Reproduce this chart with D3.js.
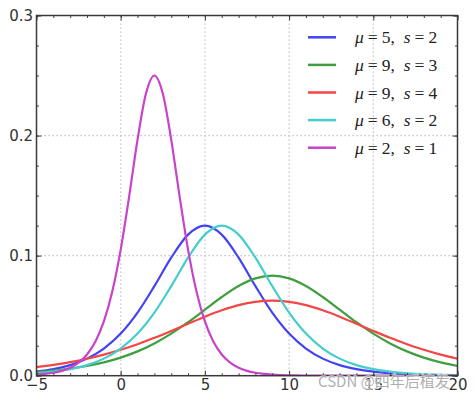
<!DOCTYPE html>
<html>
<head>
<meta charset="utf-8">
<script src="https://cdn.jsdelivr.net/npm/d3@7/dist/d3.min.js"></script>
<style>
html,body{margin:0;padding:0;background:#fff;}
svg{display:block;}
</style>
</head>
<body>
<svg id="chart" width="474" height="395"></svg>
<script>
// ---- data ----
const xWide = [-5,-4,-3,-2,-1,0,1,2,3,4,5,6,7,8,9,10,11,12,13,14,15,16,17,18,19,20];
const xNarrow = [-5,-4.5,-4,-3.5,-3,-2.5,-2,-1.5,-1,-0.5,0,0.5,1,1.5,2,2.5,3,3.5,4,4.5,5,5.5,6,6.5,7,7.5,8,8.5,9,9.5,10,10.5,11,11.5,12,12.5,13,13.5,14,14.5,15,15.5,16,16.5,17,17.5,18,18.5,19,19.5,20];

const mu5s2 = [0.00332,0.00544,0.00883,0.01423,0.02259,0.03505,0.0525,0.07458,0.0983,0.1175,0.125,0.1175,0.0983,0.07458,0.0525,0.03505,0.02259,0.01423,0.00883,0.00544,0.00332,0.00203,0.00123,0.00075,0.00046,0.00028];
const mu9s3 = [0.00308,0.00426,0.00589,0.0081,0.01109,0.01506,0.02025,0.02686,0.035,0.04454,0.05503,0.06554,0.07472,0.08106,0.08333,0.08106,0.07472,0.06554,0.05503,0.04454,0.035,0.02686,0.02025,0.01506,0.01109,0.0081];
const mu9s4 = [0.00711,0.00898,0.0113,0.01412,0.01753,0.02157,0.02625,0.03153,0.03729,0.04328,0.04915,0.05447,0.05875,0.06153,0.0625,0.06153,0.05875,0.05447,0.04915,0.04328,0.03729,0.03153,0.02625,0.02157,0.01753,0.01412];
const mu6s2 = [0.00203,0.00332,0.00544,0.00883,0.01423,0.02259,0.03505,0.0525,0.07458,0.0983,0.1175,0.125,0.1175,0.0983,0.07458,0.0525,0.03505,0.02259,0.01423,0.00883,0.00544,0.00332,0.00203,0.00123,0.00075,0.00046];
const mu2s1 = [0.00091,0.0015,0.00247,0.00405,0.00665,0.01087,0.01766,0.02845,0.04518,0.0701,0.105,0.1491,0.1966,0.235,0.25,0.235,0.1966,0.1491,0.105,0.0701,0.04518,0.02845,0.01766,0.01087,0.00665,0.00405,0.00247,0.0015,0.00091,0.00055,0.00034,0.0002,0.00012,0.00007,0.00005,0.00003,0.00002,0.00001,0.00001,0,0,0,0,0,0,0,0,0,0,0,0];

const seriesNames = ["mu5s2","mu9s3","mu9s4","mu6s2","mu2s1"];
const legendMu = ["5","9","9","6","2"];
const legendS = ["2","3","4","2","1"];
const seriesColors = ["#4343f5","#3f9f3f","#f54545","#45cdcd","#c843cc"];

const xTicks = [-5,0,5,10,15,20];
const xMinor = d3.range(-5,21,1);
const yTicks = [0.0,0.1,0.2,0.3];
const yMinor = d3.range(0,0.3001,0.025);
const xGrid = [0,5,10,15];
const yGrid = [0.1,0.2];

// ---- chart ----
const svg = d3.select("#chart");
const L = 36.5, R = 457.5, T = 15.5, B = 375.7;
const x = d3.scaleLinear().domain([-5,20]).range([L,R]);
const y = d3.scaleLinear().domain([0,0.3]).range([B,T]);

const series = [
  {xs:xWide, ys:mu5s2},
  {xs:xWide, ys:mu9s3},
  {xs:xWide, ys:mu9s4},
  {xs:xWide, ys:mu6s2},
  {xs:xNarrow, ys:mu2s1}
];

// grid
const grid = svg.append("g").attr("stroke","#b8b8b8").attr("stroke-width",1.2).attr("stroke-dasharray","1.3,2.7");
grid.selectAll("line.gx").data(xGrid).enter().append("line")
  .attr("x1",d=>x(d)).attr("x2",d=>x(d)).attr("y1",T).attr("y2",B);
grid.selectAll("line.gy").data(yGrid).enter().append("line")
  .attr("y1",d=>y(d)).attr("y2",d=>y(d)).attr("x1",L).attr("x2",R);

// clip
svg.append("clipPath").attr("id","clip").append("rect")
  .attr("x",L).attr("y",T).attr("width",R-L).attr("height",B-T);

const line = d3.line().curve(d3.curveMonotoneX);
const lines = svg.append("g").attr("clip-path","url(#clip)");
series.forEach((s,i)=>{
  const pts = s.xs.map((xv,j)=>[x(xv), y(s.ys[j])]);
  lines.append("path").attr("d", line(pts))
    .attr("fill","none").attr("stroke",seriesColors[i]).attr("stroke-width",2.2)
    .attr("stroke-linejoin","round");
});

// axes
const tickColor = "#444";
function styleAxis(g){
  g.select(".domain").remove();
  g.selectAll(".tick line").attr("stroke",tickColor).attr("stroke-width",1);
  g.selectAll(".tick text").attr("fill","#333").style("font-family","'DejaVu Sans', sans-serif").style("font-size","15px");
}
const fmtX = d => d < 0 ? "\u2212" + Math.abs(d) : String(d);
svg.append("g").attr("transform",`translate(0,${B})`)
  .call(d3.axisBottom(x).tickValues(xMinor).tickSize(-2.5).tickFormat(""))
  .call(styleAxis);
svg.append("g").attr("transform",`translate(0,${B})`)
  .call(d3.axisBottom(x).tickValues(xTicks).tickSize(-5).tickPadding(4).tickFormat(fmtX))
  .call(styleAxis);
svg.append("g").attr("transform",`translate(0,${T})`)
  .call(d3.axisTop(x).tickValues(xMinor).tickSize(-2.5).tickFormat(""))
  .call(styleAxis);
svg.append("g").attr("transform",`translate(0,${T})`)
  .call(d3.axisTop(x).tickValues(xTicks).tickSize(-5).tickFormat(""))
  .call(styleAxis);
svg.append("g").attr("transform",`translate(${L},0)`)
  .call(d3.axisLeft(y).tickValues(yMinor).tickSize(-2.5).tickFormat(""))
  .call(styleAxis);
svg.append("g").attr("transform",`translate(${L},0)`)
  .call(d3.axisLeft(y).tickValues(yTicks).tickSize(-5).tickPadding(3.5).tickFormat(d3.format(".1f")))
  .call(styleAxis);
svg.append("g").attr("transform",`translate(${R},0)`)
  .call(d3.axisRight(y).tickValues(yMinor).tickSize(-2.5).tickFormat(""))
  .call(styleAxis);
svg.append("g").attr("transform",`translate(${R},0)`)
  .call(d3.axisRight(y).tickValues(yTicks).tickSize(-5).tickFormat(""))
  .call(styleAxis);

// frame
svg.append("rect").attr("x",L).attr("y",T).attr("width",R-L).attr("height",B-T)
  .attr("fill","none").attr("stroke","#3a3a3a").attr("stroke-width",1.5);

// legend
const leg = svg.append("g");
seriesNames.forEach((n,i)=>{
  const ly = 37.3 + i*27.6;
  leg.append("line").attr("x1",308).attr("x2",336).attr("y1",ly).attr("y2",ly)
    .attr("stroke",seriesColors[i]).attr("stroke-width",2.5);
  const t = leg.append("text").attr("x",355).attr("y",ly+6)
    .style("font-family","'Liberation Serif','Times New Roman',serif").style("font-size","17.5px").attr("fill","#222");
  t.append("tspan").style("font-style","italic").text("\u03BC");
  t.append("tspan").attr("dx",4).text("=");
  t.append("tspan").attr("dx",4).text(legendMu[i] + ",");
  t.append("tspan").attr("dx",9).style("font-style","italic").text("s");
  t.append("tspan").attr("dx",4).text("=");
  t.append("tspan").attr("dx",4).text(legendS[i]);
});

// watermark
svg.append("text").attr("x",318).attr("y",387)
  .style("font-family","'Noto Sans CJK SC','DejaVu Sans',sans-serif").style("font-size","15px")
  .attr("fill","#a0a0a0").attr("fill-opacity",0.85)
  .attr("stroke","#fff").attr("stroke-width",2).attr("stroke-opacity",0.6).attr("paint-order","stroke")
  .text("CSDN @四年后植发");
</script>
</body>
</html>
